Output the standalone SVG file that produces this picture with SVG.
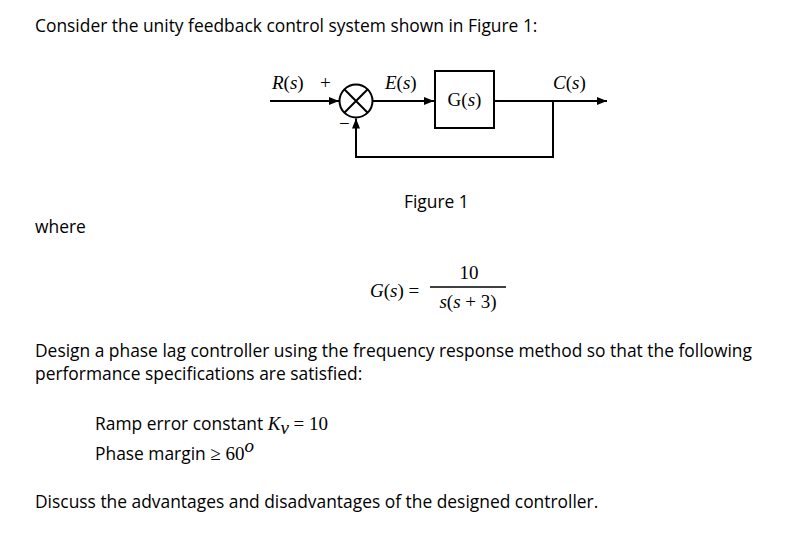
<svg xmlns="http://www.w3.org/2000/svg" width="812" height="537" viewBox="0 0 812 537">
<style>
.t{font-family:"Open Sans","Liberation Sans",sans-serif;font-size:17.4px;fill:#000}
.m{font-family:"Liberation Serif",serif;font-size:19px;fill:#000}
.ln{stroke:#000;stroke-width:2;fill:none}
</style>
<defs><marker id="a" markerWidth="10" markerHeight="8" refX="10" refY="4" orient="auto" markerUnits="userSpaceOnUse"><path d="M0,0 L10,4 L0,8 z" fill="#000"/></marker></defs>
<rect width="812" height="537" fill="#fff"/>
<text class="t" x="35" y="32">Consider the unity feedback control system shown in Figure 1:</text>
<g id="sum"><circle class="ln" cx="356" cy="101" r="16.5"/><path class="ln" d="M344.3,89.3 L367.7,112.7 M367.7,89.3 L344.3,112.7"/></g>
<g id="G"><rect class="ln" x="435" y="71" width="59" height="57"/><text class="m" x="464.5" y="106" text-anchor="middle">G(<tspan font-style="italic">s</tspan>)</text></g>
<g id="connectors">
<line class="ln" x1="270" y1="101" x2="339" y2="101" marker-end="url(#a)"/>
<line class="ln" x1="373" y1="101" x2="434" y2="101" marker-end="url(#a)"/>
<line class="ln" x1="495" y1="101" x2="607" y2="101" marker-end="url(#a)"/>
<polyline class="ln" points="553,101 553,157 356,157 356,118.5" marker-end="url(#a)"/>
</g>
<g id="labels">
<text class="m" x="272" y="89"><tspan font-style="italic">R</tspan>(<tspan font-style="italic">s</tspan>)</text>
<text class="m" x="320" y="89">+</text>
<text class="m" x="385" y="89"><tspan font-style="italic">E</tspan>(<tspan font-style="italic">s</tspan>)</text>
<text class="m" x="553" y="89"><tspan font-style="italic">C</tspan>(<tspan font-style="italic">s</tspan>)</text>
<text class="m" x="339" y="130">−</text>
</g>
<text class="t" x="404" y="208">Figure 1</text>
<text class="t" x="35" y="233">where</text>
<g id="eq">
<text class="m" x="370" y="297" font-size="19"><tspan font-style="italic">G</tspan>(<tspan font-style="italic">s</tspan>) =</text>
<text class="m" x="469" y="279" font-size="19" text-anchor="middle">10</text>
<line x1="430" y1="287" x2="506" y2="287" stroke="#000" stroke-width="1.3"/>
<text class="m" x="468" y="308" font-size="19" text-anchor="middle"><tspan font-style="italic">s</tspan>(<tspan font-style="italic">s</tspan> + 3)</text>
</g>
<text class="t" x="35" y="357">Design a phase lag controller using the frequency response method so that the following</text>
<text class="t" x="35" y="380">performance specifications are satisfied:</text>
<text class="t" x="95" y="430">Ramp error constant <tspan class="m" font-style="italic">K</tspan><tspan class="m" font-size="12" font-style="italic" dy="4">v</tspan><tspan class="m" dy="-4"> = 10</tspan></text>
<text class="t" x="95" y="460">Phase margin <tspan class="m">≥ 60</tspan><tspan class="m" font-size="12" font-style="italic" dy="-8">o</tspan></text>
<text class="t" x="35" y="508">Discuss the advantages and disadvantages of the designed controller.</text>
</svg>
